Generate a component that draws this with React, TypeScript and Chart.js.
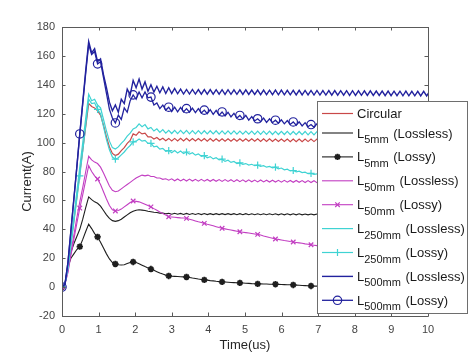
import React, { useEffect, useRef } from 'react';
import { Chart, registerables } from 'chart.js';

Chart.register(...registerables);

// Sampling step of the simulated waveforms (microseconds)
const T_STEP = 0.081;
const MARKER_EVERY = 6;

const X_MIN = 0;
const X_MAX = 10;
const X_STEP = 1;
const Y_MIN = -20;
const Y_MAX = 180;
const Y_STEP = 20;

const X_TITLE = 'Time(us)';
const Y_TITLE = 'Current(A)';

const circular = [
  0, 2, 13, 30, 46, 62, 79, 95, 111, 127,
  125, 124, 122, 119, 112, 104, 97, 92.5, 91, 92,
  94.5, 96.5, 99.5, 101.5, 106, 105, 107.5, 106, 106.5, 104,
  104, 102.5, 103.5, 101.8, 103, 101.3, 102.9, 101.2, 102.9, 101.2,
  102.9, 101.1, 102.9, 101.1, 102.8, 101.1, 102.8, 101.1, 102.8, 101.0,
  102.8, 101.0, 102.7, 101.0, 102.7, 101.0, 102.7, 100.9, 102.7, 100.9,
  102.7, 100.9, 102.6, 100.9, 102.6, 100.9, 102.6, 100.8, 102.6, 100.8,
  102.6, 100.8, 102.5, 100.8, 102.5, 100.8, 102.5, 100.7, 102.5, 100.7,
  102.5, 100.7, 102.4, 100.7, 102.4, 100.7, 102.4, 100.6, 102.4, 100.6,
  102.4, 100.6, 102.3,
];

const l5Lossless = [
  0, 2, 15, 24, 30, 35, 40, 47, 55, 62.4,
  60.5, 59, 58, 56, 53, 50, 47.5, 46, 45.5, 46,
  47, 48.5, 50, 51.5, 52.5, 53.2, 53.5, 53.3, 53, 52.5,
  52.2, 51.8, 51.6, 51.2, 51.2, 50.8, 51.1, 50.4, 51.1, 50.4,
  51.0, 50.3, 51.0, 50.3, 50.9, 50.3, 50.9, 50.2, 50.9, 50.2,
  50.8, 50.2, 50.8, 50.2, 50.8, 50.2, 50.8, 50.2, 50.8, 50.1,
  50.8, 50.1, 50.8, 50.1, 50.7, 50.1, 50.7, 50.1, 50.7, 50.1,
  50.7, 50.1, 50.7, 50.0, 50.7, 50.0, 50.7, 50.0, 50.7, 50.0,
  50.7, 50.0, 50.6, 50.0, 50.6, 50.0, 50.6, 50.0, 50.6, 50.0,
  50.6, 50.0, 50.6,
];

const l5Lossy = [
  0, 2, 14, 20, 23, 26, 28, 33, 38.5, 43.6,
  40.5, 37, 34.7, 31, 27, 23, 19.5, 17, 16, 15.5,
  15.3, 15.5, 16.3, 17, 17.4, 17, 16.2, 15.2, 14.2, 13.3,
  12.5, 11.6, 10.7, 9.8, 9, 8.3, 7.7, 7.5, 7.4, 7.3,
  7.2, 7.1, 7.0, 6.7, 6.3, 6.0, 5.6, 5.3, 5.0, 4.8,
  4.5, 4.3, 4.0, 3.8, 3.6, 3.5, 3.4, 3.2, 3.1, 3.0,
  2.9, 2.8, 2.7, 2.6, 2.4, 2.3, 2.2, 2.2, 2.1, 2.1,
  2.0, 2.0, 2.0, 1.9, 1.8, 1.7, 1.6, 1.6, 1.5, 1.4,
  1.3, 1.1, 1.0, 0.9, 0.8, 0.7, 0.7, 0.6, 0.6, 0.5,
  0.5, 0.4, 0.4,
];

const l50Lossless = [
  0, 2, 11, 24, 36, 48, 59, 69, 80, 90.5,
  88, 86.5, 85.5, 83, 79, 74.5, 70, 67, 66, 66.5,
  68, 69.5, 71, 72.5, 74, 75.5, 76.5, 77.5, 77, 77.5,
  76.5, 76.5, 75.5, 75.5, 74.6, 75, 74, 74.9, 73.6, 74.8,
  73.5, 74.7, 73.4, 74.7, 73.4, 74.6, 73.3, 74.6, 73.3, 74.5,
  73.2, 74.5, 73.2, 74.4, 73.1, 74.4, 73.1, 74.3, 73.0, 74.3,
  73.0, 74.2, 72.9, 74.2, 72.9, 74.1, 72.8, 74.1, 72.8, 74.0,
  72.7, 74.0, 72.7, 73.9, 72.6, 73.9, 72.6, 73.8, 72.5, 73.8,
  72.5, 73.7, 72.4, 73.7, 72.4, 73.6, 72.3, 73.6, 72.3, 73.5,
  72.2, 73.5, 72.2,
];

const l50Lossy = [
  0, 2, 10, 22, 33, 44, 54.7, 64, 74, 84,
  80, 77, 74.8, 71, 66, 61, 56.5, 53.5, 52.7, 53,
  54, 55.5, 57, 58.5, 59.6, 59.3, 59, 58.2, 57.3, 56.4,
  55.5, 54.3, 53.2, 52, 50.9, 49.8, 48.7, 48.5, 48.3, 48.1,
  47.9, 47.8, 47.6, 47.0, 46.4, 45.8, 45.2, 44.7, 44.1, 43.5,
  43.0, 42.4, 41.8, 41.2, 40.7, 40.3, 39.9, 39.5, 39.1, 38.7,
  38.3, 38.0, 37.7, 37.4, 37.1, 36.8, 36.5, 36.0, 35.4, 34.9,
  34.3, 33.8, 33.3, 33.0, 32.6, 32.2, 31.9, 31.5, 31.2, 30.9,
  30.6, 30.3, 29.9, 29.6, 29.3, 29.0, 28.7, 28.4, 28.1, 27.8,
  27.5, 27.2, 26.9,
];

const l250Lossless = [
  0, 2, 14, 31, 48.5, 66, 83, 100, 117, 133.5,
  129, 130, 126, 124, 116, 108, 101, 96.5, 95.5, 97,
  99.5, 101.5, 104.5, 106.5, 109.5, 110.5, 113, 111, 112.5, 109.5,
  110.5, 108, 109.5, 107, 109, 106.5, 108.5, 106.3, 108.5, 106.2,
  108.4, 106.2, 108.4, 106.1, 108.3, 106.1, 108.3, 106.0, 108.2, 106.0,
  108.2, 106.0, 108.2, 105.9, 108.1, 105.9, 108.1, 105.9, 108.1, 105.8,
  108.0, 105.8, 108.0, 105.8, 108.0, 105.7, 107.9, 105.7, 107.9, 105.7,
  107.9, 105.6, 107.8, 105.6, 107.8, 105.6, 107.8, 105.5, 107.7, 105.5,
  107.7, 105.5, 107.7, 105.4, 107.6, 105.4, 107.6, 105.4, 107.6, 105.3,
  107.5, 105.3, 107.5,
];

const l250Lossy = [
  0, 2, 13, 29, 45, 61, 77, 94, 112, 130,
  127, 127.5, 123, 120, 111, 102, 95, 90, 88.5, 89.5,
  91.5, 93.5, 96, 98, 100.5, 101, 102.5, 101, 101.5, 99.5,
  99.5, 97, 97.5, 95.5, 96, 94, 94.5, 93, 94.5, 92.8,
  94.2, 92.5, 93.5, 92, 93, 91.3, 92.2, 90.5, 91.0, 89.5,
  90.3, 88.7, 89.5, 88, 88.5, 87, 87.8, 86.3, 86.9, 85.5,
  85.9, 85, 85.5, 84.5, 85, 84, 84.4, 83.5, 84, 83,
  83.5, 82.5, 83.0, 81.9, 82.4, 81.2, 81.6, 80.4, 80.7, 79.7,
  80.2, 79.2, 79.5, 78.5, 78.7, 78, 78.4, 77.5, 77.9, 77,
  77.3, 76.5, 76.8,
];

const l500Lossless = [
  0, 2, 17, 39, 61, 83, 106, 128, 150, 170,
  162, 165, 156, 158, 147, 138, 128, 122, 126, 121,
  130, 127, 137, 133, 143, 138, 144, 137, 142, 135.5,
  140, 135, 139, 134.5, 138.5, 134, 138, 134, 137.5, 133.8,
  137, 133.6, 136.8, 133.6, 136.8, 133.6, 136.7, 133.5, 136.7, 133.5,
  136.7, 133.5, 136.6, 133.5, 136.6, 133.4, 136.6, 133.4, 136.5, 133.4,
  136.5, 133.3, 136.5, 133.3, 136.4, 133.3, 136.4, 133.2, 136.4, 133.2,
  136.3, 133.2, 136.3, 133.1, 136.3, 133.1, 136.2, 133.1, 136.2, 133.0,
  136.2, 133.0, 136.1, 133.0, 136.1, 132.9, 136.1, 132.9, 136.0, 132.9,
  136.0, 132.8, 136.0, 132.8, 135.9, 132.8, 135.9, 132.7, 135.9, 132.7,
  135.8, 132.7, 135.8, 132.6, 135.8, 132.6, 135.7, 132.6, 135.7, 132.5,
  135.7, 132.5, 135.6, 132.5, 135.6, 132.4, 135.6, 132.4, 135.5, 132.4,
  135.5, 132.3, 135.5, 132.3, 135.4,
];

const l500Lossy = [
  0, 2, 17, 39, 61, 83, 106, 127, 148, 168,
  161, 163, 154.5, 156, 145, 134, 123, 117, 113.6, 119,
  116, 124, 121, 129, 133, 130, 135, 131, 135, 131,
  131.5, 126, 127.5, 123.5, 126, 122.5, 124.5, 121.5, 124.5, 121.3,
  124.3, 121.2, 123.5, 121, 123.8, 120.8, 123.5, 120.5, 122.5, 120,
  122.8, 119.5, 122.3, 119, 121.2, 118.5, 121, 117.8, 120.3, 117,
  118.8, 116.3, 118.8, 115.6, 118, 115, 116.5, 114.5, 117, 114,
  116.5, 113.8, 115.5, 113.4, 115.8, 113, 115.3, 112.6, 114.3, 112,
  114.4, 111.5, 113.8, 111, 112.5, 110.6, 113, 110.2, 112.5, 109.8,
  112, 109.5, 111.8,
];

const RED = '#c94848';
const BLACK = '#1e1e1e';
const MAGENTA = '#c23ec2';
const CYAN = '#3fd3d3';
const BLUE = '#22229e';
const AXIS = '#5a5a5a';
const TICK_TEXT = '#444444';
const FONT = '"Liberation Sans", Arial, Helvetica, sans-serif';

type Marker = 'none' | 'star' | 'crossRot' | 'cross' | 'circle';

interface SeriesDef {
  base: string;
  sub: string;
  tail: string;
  values: number[];
  color: string;
  width: number;
  marker: Marker;
  radius: number;
}

const SERIES: SeriesDef[] = [
  { base: 'Circular', sub: '', tail: '', values: circular, color: RED, width: 1.2, marker: 'none', radius: 0 },
  { base: 'L', sub: '5mm', tail: ' (Lossless)', values: l5Lossless, color: BLACK, width: 1.1, marker: 'none', radius: 0 },
  { base: 'L', sub: '5mm', tail: ' (Lossy)', values: l5Lossy, color: BLACK, width: 1.1, marker: 'star', radius: 3.2 },
  { base: 'L', sub: '50mm', tail: ' (Lossless)', values: l50Lossless, color: MAGENTA, width: 1.1, marker: 'none', radius: 0 },
  { base: 'L', sub: '50mm', tail: ' (Lossy)', values: l50Lossy, color: MAGENTA, width: 1.1, marker: 'crossRot', radius: 3.2 },
  { base: 'L', sub: '250mm', tail: ' (Lossless)', values: l250Lossless, color: CYAN, width: 1.2, marker: 'none', radius: 0 },
  { base: 'L', sub: '250mm', tail: ' (Lossy)', values: l250Lossy, color: CYAN, width: 1.2, marker: 'cross', radius: 3.6 },
  { base: 'L', sub: '500mm', tail: ' (Lossless)', values: l500Lossless, color: BLUE, width: 1.4, marker: 'none', radius: 0 },
  { base: 'L', sub: '500mm', tail: ' (Lossy)', values: l500Lossy, color: BLUE, width: 1.3, marker: 'circle', radius: 4.2 },
];

const toXY = (vals: number[]) => vals.map((y, i) => ({ x: Math.round(i * T_STEP * 1000) / 1000, y }));

function drawMarker(ctx: CanvasRenderingContext2D, m: Marker, x: number, y: number, r: number, color: string) {
  if (m === 'none') return;
  ctx.save();
  ctx.strokeStyle = color;
  ctx.lineWidth = m === 'star' ? 1.8 : 1.2;
  ctx.beginPath();
  if (m === 'circle') {
    ctx.arc(x, y, r, 0, Math.PI * 2);
  } else {
    if (m === 'cross' || m === 'star') {
      ctx.moveTo(x - r, y); ctx.lineTo(x + r, y);
      ctx.moveTo(x, y - r); ctx.lineTo(x, y + r);
    }
    if (m === 'crossRot' || m === 'star') {
      const d = r * 0.7071;
      ctx.moveTo(x - d, y - d); ctx.lineTo(x + d, y + d);
      ctx.moveTo(x - d, y + d); ctx.lineTo(x + d, y - d);
    }
  }
  ctx.stroke();
  ctx.restore();
}

const framePlugin = {
  id: 'matlabFrame',
  afterDatasetsDraw(chart: any) {
    const { ctx, chartArea } = chart;
    const { left, right, top, bottom } = chartArea;
    const xs = chart.scales.x;
    const ys = chart.scales.y;
    const TL = 3.5;
    ctx.save();
    ctx.strokeStyle = AXIS;
    ctx.lineWidth = 1;
    ctx.beginPath();
    ctx.rect(Math.round(left) + 0.5, Math.round(top) + 0.5, Math.round(right - left), Math.round(bottom - top));
    for (const t of xs.ticks) {
      const px = Math.round(xs.getPixelForValue(t.value)) + 0.5;
      ctx.moveTo(px, bottom); ctx.lineTo(px, bottom - TL);
      ctx.moveTo(px, top); ctx.lineTo(px, top + TL);
    }
    for (const t of ys.ticks) {
      const py = Math.round(ys.getPixelForValue(t.value)) + 0.5;
      ctx.moveTo(left, py); ctx.lineTo(left + TL, py);
      ctx.moveTo(right, py); ctx.lineTo(right - TL, py);
    }
    ctx.stroke();

    // axis titles
    ctx.fillStyle = '#262626';
    ctx.font = `13px ${FONT}`;
    ctx.textAlign = 'center';
    ctx.textBaseline = 'middle';
    ctx.fillText(X_TITLE, (left + right) / 2, bottom + 29);
    ctx.translate(left - 35, (top + bottom) / 2 + 10);
    ctx.rotate(-Math.PI / 2);
    ctx.fillText(Y_TITLE, 0, 0);
    ctx.restore();
  },
};

const legendPlugin = {
  id: 'matlabLegend',
  afterDraw(chart: any) {
    const { ctx, chartArea } = chart;
    const boxL = chartArea.right - 111;
    const boxT = chartArea.top + 74;
    const boxW = 150;
    const boxH = 212;
    ctx.save();
    ctx.fillStyle = '#ffffff';
    ctx.fillRect(boxL, boxT, boxW, boxH);
    ctx.strokeStyle = '#6e6e6e';
    ctx.lineWidth = 1;
    ctx.strokeRect(Math.round(boxL) + 0.5, Math.round(boxT) + 0.5, boxW, boxH);

    const lineX0 = boxL + 5;
    const lineX1 = boxL + 36;
    const textX = boxL + 40;
    SERIES.forEach((s, k) => {
      const rowY = k === 0 ? boxT + 12.5 : boxT + 32 + (k - 1) * 23.9;
      ctx.strokeStyle = s.color;
      ctx.lineWidth = s.width;
      ctx.beginPath();
      ctx.moveTo(lineX0, rowY);
      ctx.lineTo(lineX1, rowY);
      ctx.stroke();
      drawMarker(ctx, s.marker, (lineX0 + lineX1) / 2, rowY, s.radius, s.color);

      ctx.fillStyle = '#1a1a1a';
      ctx.textAlign = 'left';
      ctx.textBaseline = 'alphabetic';
      ctx.font = `13px ${FONT}`;
      let x = textX;
      ctx.fillText(s.base, x, rowY + 4.5);
      x += ctx.measureText(s.base).width;
      if (s.sub) {
        ctx.font = `11px ${FONT}`;
        ctx.fillText(s.sub, x, rowY + 10);
        x += ctx.measureText(s.sub).width + 1;
        ctx.font = `13px ${FONT}`;
        ctx.fillText(s.tail, x, rowY + 4.5);
      }
    });
    ctx.restore();
  },
};

export default function App() {
  const canvasRef = useRef<HTMLCanvasElement | null>(null);

  useEffect(() => {
    const canvas = canvasRef.current;
    if (!canvas) return;
    Chart.defaults.font.family = FONT;

    // draw order: last series on top (as plotted)
    const datasets = SERIES.map((s) => ({
      label: s.sub ? `${s.base}${s.sub}${s.tail}` : s.base,
      data: toXY(s.values),
      borderColor: s.color,
      backgroundColor: s.color,
      borderWidth: s.width,
      fill: false,
      tension: 0,
      pointStyle: s.marker === 'none' ? false : s.marker,
      pointRadius: (c: any) => (s.marker !== 'none' && c.dataIndex % MARKER_EVERY === 0 ? s.radius : 0),
      pointHoverRadius: 0,
      pointBorderColor: s.color,
      pointBackgroundColor: s.marker === 'circle' ? 'rgba(0,0,0,0)' : s.color,
      pointBorderWidth: s.marker === 'star' ? 1.8 : 1.2,
    })).reverse();

    const chart = new Chart(canvas, {
      type: 'line',
      data: { datasets: datasets as any },
      options: {
        animation: false,
        responsive: false,
        devicePixelRatio: 1,
        events: [],
        layout: { padding: { left: 0, right: 46, top: 27, bottom: 0 } },
        plugins: { legend: { display: false }, tooltip: { enabled: false }, title: { display: false } },
        scales: {
          x: {
            type: 'linear',
            min: X_MIN,
            max: X_MAX,
            ticks: { stepSize: X_STEP, padding: 7, color: TICK_TEXT, font: { size: 11, family: FONT } },
            grid: { display: false, drawTicks: false },
            border: { display: false },
            afterFit: (s: any) => { s.height = 39; },
          },
          y: {
            type: 'linear',
            min: Y_MIN,
            max: Y_MAX,
            ticks: { stepSize: Y_STEP, padding: 7, color: TICK_TEXT, font: { size: 11, family: FONT } },
            grid: { display: false, drawTicks: false },
            border: { display: false },
            afterFit: (s: any) => { s.width = 62; },
          },
        },
      },
      plugins: [framePlugin, legendPlugin],
    });
    return () => chart.destroy();
  }, []);

  return (
    <div style={{ position: 'absolute', left: 0, top: 0, width: 474, height: 355, background: '#ffffff' }}>
      <canvas ref={canvasRef} width={474} height={355} style={{ display: 'block' }} />
    </div>
  );
}
